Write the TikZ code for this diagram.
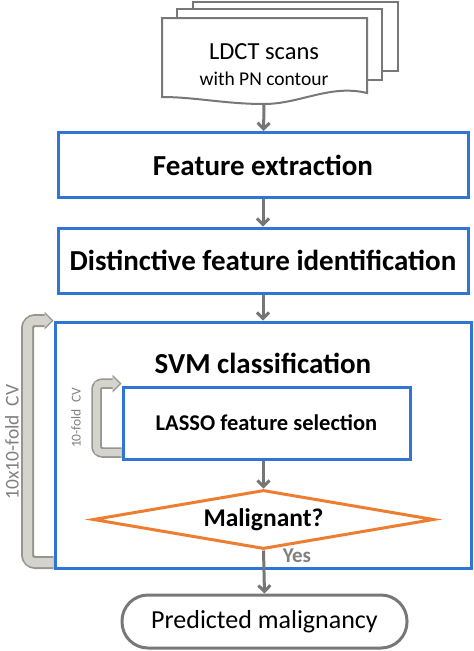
\documentclass[tikz,border=0pt]{standalone}
\usepackage{fontspec}
\setmainfont{Carlito}
\usepackage{xcolor}
\usetikzlibrary{arrows.meta,shapes.geometric,positioning}

\definecolor{boxblue}{RGB}{46,117,214}
\definecolor{diaorange}{RGB}{237,125,49}
\definecolor{arrgray}{RGB}{118,118,118}
\definecolor{docgray}{RGB}{120,120,120}
\definecolor{bandedge}{RGB}{150,150,145}
\definecolor{bandfill}{RGB}{212,212,204}
\definecolor{cvgray}{RGB}{128,128,128}

\begin{document}
\begin{tikzpicture}[x=1pt,y=-1pt,
    stepbox/.style={draw=boxblue,line width=3pt,minimum width=410pt,minimum height=65pt,
      font=\bfseries\fontsize{29}{32}\selectfont},
    flow/.style={draw=arrgray,line width=3pt,-{Straight Barb[length=6pt,width=12pt]}},
    sheet/.style={draw=docgray,fill=white,line width=2pt},
    bandout/.style={draw=bandedge,rounded corners=8pt,-{Triangle[length=9pt,width=18pt,line width=0pt]}},
    bandin/.style={draw=bandfill,rounded corners=7pt,shorten >=2pt,-{Triangle[length=6.5pt,width=13pt,line width=0pt]}},
    cvlabel/.style={text=cvgray,rotate=90}]
    \useasboundingbox (0,0) rectangle (474,651);

    % Scans
    \draw[sheet] (193,1.5) rectangle (398,71);
    \draw[sheet] (177,9) rectangle (382,80);
    \draw[sheet] (162,18) -- (367,18) -- (367,93) .. controls (330,84) and (300,104) .. (264,104)
        .. controls (225,104) and (195,97) .. (162,97) -- cycle;
    \node[font=\fontsize{24.5}{28}\selectfont] (scans) at (264,52) {LDCT scans};
    \node[font=\fontsize{19.5}{22}\selectfont] (contour) at (264,79) {with PN contour};
    \coordinate (docend) at (264,104);

    % Steps
    \node[stepbox] (extract) at (263,165) {Feature extraction};
    \node[stepbox] (distinct) at (263,260.5) {Distinctive feature identification};

    % SVM
    \node[draw=boxblue,line width=3pt,minimum width=416pt,minimum height=246pt] (svm) at (263,445) {};
    \node[font=\bfseries\fontsize{29}{32}\selectfont] (svmtitle) at (263,363) {SVM classification};
    \node[draw=boxblue,line width=3pt,minimum width=287pt,minimum height=72pt,
        font=\bfseries\fontsize{22.5}{26}\selectfont] (lasso) at (266.5,423) {LASSO feature selection};
    \node[diamond,draw=diaorange,line width=3pt,aspect=5.8,inner sep=0pt,
        minimum width=341pt,minimum height=59pt,
        font=\bfseries\fontsize{25.5}{28}\selectfont] (malig) at (263.5,519.5) {Malignant?};
    \node[font=\bfseries\fontsize{21}{24}\selectfont,text=cvgray] (yes) at (297,556) {Yes};

    % Result
    \node[draw=docgray,line width=3pt,rounded corners=26pt,minimum width=285pt,minimum height=53pt,
        font=\fontsize{26}{30}\selectfont] (predict) at (264.5,621.5) {Predicted malignancy};

    % Arrows
    \draw[flow] (docend) -- (extract);
    \draw[flow] (extract) -- (distinct);
    \draw[flow] (distinct) -- (svm.north);
    \draw[flow] (lasso.south -| malig.north) -- (malig.north);
    \draw[flow] (malig.south) -- (predict.north);

    % CV loops
    \draw[bandout,line width=13pt] ([yshift=7pt]svm.south west) -- +(-26,0) |- (svm.north west);
    \draw[bandin,line width=9pt] ([yshift=7pt]svm.south west) -- +(-26,0) |- (svm.north west);
    \draw[bandout,line width=10.5pt,rounded corners=6pt] ([yshift=8pt]lasso.south west) -- +(-25,0) |- ([yshift=2pt]lasso.north west);
    \draw[bandin,line width=7pt,rounded corners=5pt] ([yshift=8pt]lasso.south west) -- +(-25,0) |- ([yshift=2pt]lasso.north west);
    \node[cvlabel,font=\fontsize{19.5}{22}\selectfont] (outercv) at (12,442) {10x10-fold\ \ CV};
    \node[cvlabel,font=\fontsize{13.5}{15}\selectfont] (innercv) at (76,418) {10-fold\ \ CV};
\end{tikzpicture}
\end{document}
